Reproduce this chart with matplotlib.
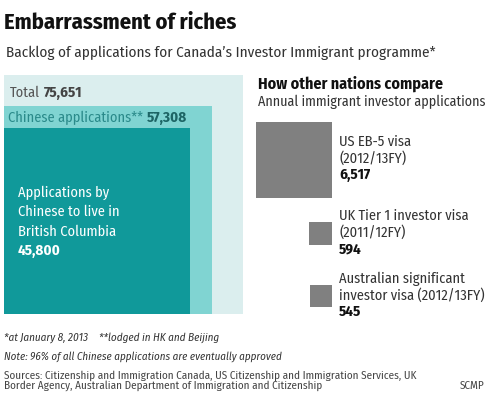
import numpy as np
from matplotlib import pyplot as plt
from matplotlib.patches import Rectangle

# ===data
canada_labels = ["Total", "Chinese applications**",
                 ["Applications by", "Chinese to live in", "British Columbia"]]
canada_values = [75651, 57308, 45800]
canada_colors = ["#dbeeee", "#80d4d2", "#10999a"]

other_labels = [["US EB-5 visa", "(2012/13FY)"],
                ["UK Tier 1 investor visa", "(2011/12FY)"],
                ["Australian significant", "investor visa (2012/13FY)"]]
other_values = [6517, 594, 545]
other_color = "#808080"

FONT = ["Fira Sans Condensed", "Open Sans Condensed", "Asap Condensed", "DejaVu Sans"]
plt.rcParams["font.family"] = FONT

W, H = 486, 397
fig = plt.figure(figsize=(W / 100, H / 100), dpi=100)
ax = fig.add_axes([0, 0, 1, 1])
ax.set_xlim(0, W)
ax.set_ylim(H, 0)
ax.axis("off")

# ===titles
ax.text(4, 29, "Embarrassment of riches", fontsize=16.2, weight="bold", va="baseline", color="#111111")
ax.text(6, 57, "Backlog of applications for Canada\u2019s Investor Immigrant programme*",
        fontsize=10.9, va="baseline", color="#333333")

# ===canada nested squares (area ~ value, anchored bottom-left)
x0, y_bot, side_total = 4, 314, 239
scale = side_total / np.sqrt(canada_values[0])
for v, c in zip(canada_values, canada_colors):
    s = np.sqrt(v) * scale
    ax.add_patch(Rectangle((x0, y_bot - s), s, s, facecolor=c, edgecolor="none"))

ax.text(10, 97, canada_labels[0], fontsize=10.4, va="baseline", color="#555555")
ax.text(44, 97, f"{canada_values[0]:,}", fontsize=10.8, va="baseline", weight="bold", color="#444444")
ax.text(8, 122, canada_labels[1], fontsize=10.4, va="baseline", color="#2a8a8a")
ax.text(147, 122, f"{canada_values[1]:,}", fontsize=10.8, va="baseline", weight="bold", color="#1d6565")
for i, line in enumerate(canada_labels[2]):
    ax.text(18, 197 + i * 19.5, line, fontsize=10.4, va="baseline", color="white")
ax.text(18, 255, f"{canada_values[2]:,}", fontsize=10.8, va="baseline", weight="bold", color="white")

# ===other nations
ax.text(258, 89, "How other nations compare", fontsize=11.5, weight="bold", va="baseline", color="#111111")
ax.text(258, 106, "Annual immigrant investor applications", fontsize=10.1, va="baseline", color="#333333")

x_right = 332
bottoms = [198, 245, 307]
o_scale = 76 / np.sqrt(other_values[0])
label_base = [146, 220, 283]
for v, lab, b, ly in zip(other_values, other_labels, bottoms, label_base):
    s = np.sqrt(v) * o_scale
    ax.add_patch(Rectangle((x_right - s, b - s), s, s, facecolor=other_color, edgecolor="none"))
    for i, line in enumerate(lab):
        ax.text(339, ly + i * 17, line, fontsize=10.4, va="baseline", color="#333333")
    ax.text(339, ly + 33.5, f"{v:,}", fontsize=10.8, va="baseline", weight="bold", color="#111111")

# ===footnotes
ax.text(4, 341, "*at January 8, 2013", fontsize=8.0, style="italic", va="baseline", color="#333333")
ax.text(99, 341, "**lodged in HK and Beijing", fontsize=8.0, style="italic", va="baseline", color="#333333")
ax.text(4, 360, "Note: 96% of all Chinese applications are eventually approved", fontsize=7.9,
        style="italic", va="baseline", color="#333333")
ax.text(4, 379, "Sources: Citizenship and Immigration Canada, US Citizenship and Immigration Services, UK",
        fontsize=8.0, va="baseline", color="#444444")
ax.text(4, 389, "Border Agency, Australian Department of Immigration and Citizenship",
        fontsize=8.0, va="baseline", color="#444444")
ax.text(485, 389, "SCMP", fontsize=8.0, va="baseline", ha="right", color="#444444")

fig.savefig("out.png", dpi=100, facecolor="white")
